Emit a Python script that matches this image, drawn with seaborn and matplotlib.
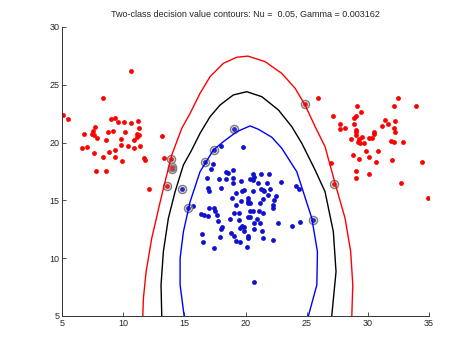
"""
Contornos del valor de decision de un SVM nu de dos clases (estilo MATLAB).
Salida: out.png (474x355)
"""
import matplotlib
matplotlib.use("Agg")
import matplotlib.pyplot as plt
import pandas as pd
import seaborn as sns

# --- puntos de la clase "fuera" (rojo): dos grupos, izquierda y derecha ---
red_x = [5.1, 5.5, 8.33, 9.0, 9.33, 9.58, 10.07, 10.64, 11.24, 7.7, 11.3, 7.5,
         6.8, 7.45, 8.73, 9.2, 10.18, 11.1, 11.27, 7.6, 7.84, 8.57, 9.83, 10.86,
         11.13, 13.2, 9.85, 10.37, 10.86, 11.35, 6.6, 7.07, 9.36, 8.87, 7.62,
         8.35, 9.33, 9.9, 11.7, 11.76, 13.34, 7.75, 8.57, 12.1, 13.9, 14.0, 14.0,
         13.6, 10.6,
         25.93, 27.13, 29.12, 29.42, 29.06, 28.85, 32.5, 32.15, 33.92, 31.38,
         31.63, 32.25, 31.17, 27.7, 27.7, 28.1, 28.85, 32.1, 32.25, 29.0, 29.0,
         30.5, 30.5, 29.0, 28.65, 29.26, 29.5, 30.13, 30.35, 29.2, 29.37, 29.67,
         31.92, 32.15, 32.88, 29.83, 30.84, 28.79, 30.13, 29.31, 30.67, 31.98,
         34.41, 29.06, 30.08, 29.01, 32.7, 34.9, 27.0, 27.26, 24.84]
red_y = [22.4, 22.0, 23.86, 22.04, 22.1, 21.8, 21.8, 21.7, 21.9, 21.35, 21.3, 21.0,
         20.77, 20.77, 20.94, 21.0, 20.94, 20.7, 20.68, 20.66, 20.43, 20.25, 20.28,
         20.25, 20.46, 20.54, 19.82, 19.68, 19.53, 19.73, 19.53, 19.59, 19.36, 19.2,
         19.1, 18.73, 18.73, 18.43, 18.7, 18.5, 18.67, 17.5, 17.54, 16.0, 18.6,
         17.86, 17.7, 16.2, 26.2,
         23.88, 22.3, 23.17, 22.62, 22.33, 22.1, 23.83, 23.17, 23.17, 21.98,
         21.6, 21.9, 21.46, 21.58, 21.18, 21.24, 21.58, 21.29, 20.92, 21.1, 20.9,
         20.94, 20.74, 20.66, 20.31, 20.31, 20.46, 20.37, 20.37, 20.08, 19.97,
         19.99, 20.14, 20.03, 20.03, 19.3, 19.27, 18.9, 18.75, 18.58, 18.35,
         18.52, 18.32, 17.52, 17.28, 16.96, 16.48, 15.2, 18.26, 16.45, 23.3]

# --- puntos de la clase "dentro" (azul): grupo central ---
blue_x = [19.06, 18.0, 19.82, 17.4, 16.7, 17.37, 17.16, 18.41, 18.6, 19.0,
          20.64, 20.72, 21.25, 21.9, 16.83, 17.86, 18.41, 19.0, 19.61, 20.37,
          20.64, 19.0, 21.05, 21.74, 22.9, 24.13, 24.4, 16.96, 17.04, 18.0,
          19.69, 19.88, 19.23, 20.59, 21.27, 21.46, 21.54, 22.0, 21.82, 21.46,
          20.18, 20.18, 20.37, 20.23, 22.5, 22.33, 18.87, 19.61, 19.23, 17.04,
          17.45, 17.51, 16.34, 16.96, 17.65, 17.73, 19.09, 19.5, 20.37, 20.64,
          20.37, 20.92, 21.46, 22.23, 22.28, 18.74, 19.5, 20.18, 21.19, 21.33,
          22.69, 23.78, 24.46, 19.69, 19.9, 19.55, 19.9, 20.72, 17.98, 18.79,
          20.18, 20.18, 19.23, 19.55, 22.28, 16.5, 17.92, 17.45, 20.1, 21.46,
          16.45, 14.81, 15.74, 15.28, 20.7, 25.5, 21.19, 21.1, 20.7, 16.6,
          18.1, 19.06]
blue_y = [21.18, 19.73, 19.6, 19.33, 18.32, 18.15, 17.69, 17.43, 17.37, 17.63,
          17.26, 17.05, 17.28, 17.28, 16.91, 16.85, 16.82, 16.91, 16.65, 16.85,
          16.76, 16.48, 16.48, 16.48, 16.62, 16.25, 15.96, 16.05, 15.81, 16.1,
          15.84, 15.9, 15.67, 15.81, 15.96, 15.9, 15.81, 15.96, 15.47, 15.09,
          15.18, 14.97, 14.75, 14.75, 15.38, 15.03, 15.18, 14.95, 14.6, 14.37,
          14.32, 14.08, 13.8, 13.63, 13.74, 13.24, 13.94, 13.94, 14.08, 14.08,
          13.59, 13.36, 13.94, 14.6, 14.32, 13.37, 13.3, 13.54, 13.02, 12.38,
          13.02, 12.81, 13.1, 12.79, 12.67, 12.59, 12.38, 12.5, 12.5, 12.2,
          11.92, 11.72, 11.51, 11.43, 11.57, 11.43, 11.86, 10.86, 10.94, 11.72,
          12.09, 15.96, 14.54, 14.32, 7.92, 13.3, 14.8, 14.11, 13.02, 13.71,
          12.73, 11.92]

# --- vectores soporte (circulos grises) ---
sv_x = [13.9, 14.0, 14.0, 13.6, 24.84, 27.26, 19.06, 17.4, 16.7, 14.81, 15.28, 25.5]
sv_y = [18.6, 17.86, 17.7, 16.2, 23.3, 16.45, 21.18, 19.33, 18.32, 15.96, 14.32, 13.3]

# --- contornos (de abajo-izq, por arriba, a abajo-der) ---
red_cx = [11.6, 11.65, 11.87, 12.33, 12.96, 13.42, 13.97, 14.79, 15.47, 16.28,
          17.1, 18.19, 19.28, 20.2, 21.6, 22.96, 24.05, 24.87, 25.69, 26.5,
          27.32, 28.14, 28.6, 28.77, 28.69]
red_cy = [5.0, 6.53, 8.83, 11.72, 14.6, 16.62, 18.93, 21.24, 22.53, 24.26,
          25.7, 26.86, 27.38, 27.48, 27.0, 25.99, 24.7, 23.25, 21.38, 19.65,
          16.48, 13.45, 10.56, 7.68, 5.0]
black_cx = [13.15, 13.09, 13.28, 13.69, 14.24, 14.92, 15.6, 16.28, 17.1, 17.92,
            19.0, 20.1, 21.33, 22.69, 23.78, 24.6, 25.7, 26.5, 27.18, 27.4, 27.05]
black_cy = [5.0, 7.68, 10.56, 13.45, 15.75, 18.06, 19.36, 20.8, 22.24, 23.25,
            24.12, 24.4, 23.97, 22.82, 21.38, 19.94, 17.6, 15.75, 12.29, 8.83, 5.0]
blue_cx = [14.98, 14.65, 14.65, 14.92, 15.47, 16.28, 17.37, 18.19, 19.28, 20.37,
           21.05, 22.15, 22.96, 24.19, 25.42, 25.88, 25.83, 25.14]
blue_cy = [5.0, 7.68, 9.99, 12.29, 14.89, 17.48, 19.36, 20.08, 20.94, 21.44,
           21.15, 20.46, 19.51, 17.48, 13.45, 10.56, 7.68, 5.0]

TITLE = "Two-class decision value contours: Nu =  0.05, Gamma = 0.003162"
x_ticks = [5, 10, 15, 20, 25, 30, 35]
y_ticks = [5, 10, 15, 20, 25, 30]

sns.set_style("white")
plt.rcParams["font.family"] = ["Liberation Sans", "DejaVu Sans"]
plt.rcParams["xtick.direction"] = "in"
plt.rcParams["ytick.direction"] = "in"

fig = plt.figure(figsize=(4.74, 3.55), dpi=100)
ax = fig.add_axes([0.131, 0.11, 0.774, 0.814])

# contornos
for cx, cy, col in [(red_cx, red_cy, "#ff0000"),
                    (black_cx, black_cy, "#000000"),
                    (blue_cx, blue_cy, "#0000ff")]:
    cdf = pd.DataFrame({"x": cx, "y": cy})
    sns.lineplot(data=cdf, x="x", y="y", sort=False, estimator=None,
                 color=col, linewidth=1.0, ax=ax)

# puntos
sns.scatterplot(x=red_x, y=red_y, color="#ff0000", s=12, linewidth=0, ax=ax)
sns.scatterplot(x=blue_x, y=blue_y, color="#1010d0", s=12, linewidth=0, ax=ax)
sns.scatterplot(x=sv_x, y=sv_y, marker="o", s=34, facecolor=(0.5, 0.5, 0.5, 0.25),
                edgecolor="#808080", linewidth=1.0, ax=ax)

ax.set_xlim(5, 35)
ax.set_ylim(5, 30)
ax.set_xticks(x_ticks)
ax.set_yticks(y_ticks)
ax.tick_params(labelsize=6.5, length=3, width=0.6, color="#333333",
               bottom=True, left=True, pad=2)
ax.set_xlabel("")
ax.set_ylabel("")
sns.despine(ax=ax)
for side in ["left", "bottom"]:
    ax.spines[side].set_color("#333333")
    ax.spines[side].set_linewidth(0.7)
ax.set_title(TITLE, fontsize=6.5, pad=7)

fig.savefig("out.png", dpi=100)
